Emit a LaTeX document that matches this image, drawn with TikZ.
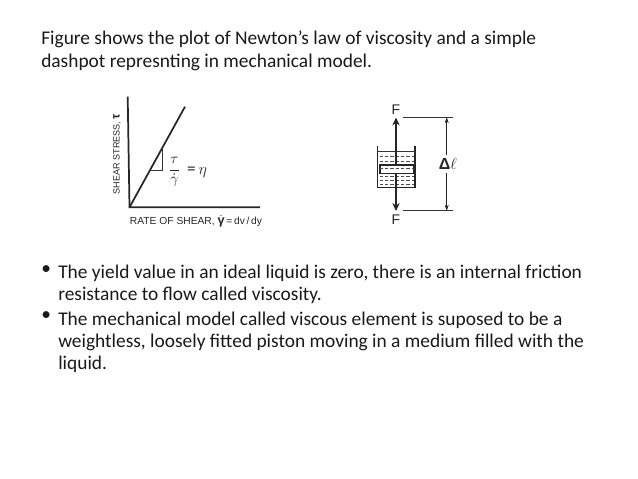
\documentclass[tikz,border=0pt]{standalone}
\usepackage{amsmath}
\usepackage{fontspec}
\setmainfont{Carlito}
\newfontfamily\labelfont{Liberation Sans}
\usetikzlibrary{arrows.meta}

\begin{document}
\begin{tikzpicture}[
    x=0.75pt,
    y=-0.75pt,
    para/.style={anchor=north west, inner sep=0pt, align=left, font=\fontsize{14.55}{16.6}\selectfont, text=black!90},
    bullet/.style={anchor=north west, inner sep=0pt, font=\fontsize{14.55}{16.6}\selectfont, text=black!90},
    axis/.style={line width=1.3pt, black!85},
    thinline/.style={line width=0.6pt, black!80},
    arrow/.style={-{Stealth[length=6pt,width=5.5pt]}, line width=0.9pt, black!85},
    dim/.style={-{Stealth[length=4.5pt,width=3pt]}, line width=0.6pt, black!85},
    lab/.style={inner sep=0pt, font=\labelfont\fontsize{7.7}{9}\selectfont, text=black!85},
    forcelab/.style={inner sep=0pt, font=\labelfont\fontsize{10.5}{11}\selectfont, text=black!85},
    dashrow/.style={line width=0.5pt, black!70, dash pattern=on 2.5pt off 1.5pt}
]
\useasboundingbox (0,0) rectangle (638,478);

% ============================================================
% TEXT
% ============================================================
\node[para] (intro) at (41,31) {Figure shows the plot of Newton’s law of viscosity and a simple\\dashpot represnting in mechanical model.};

\node[bullet] (dota) at (41,265) {•};
\node[para] (itema) at (58,265) {The yield value in an ideal liquid is zero, there is an internal friction\\resistance to flow called viscosity.};
\node[bullet] (dotb) at (41,311.5) {•};
\node[para] (itemb) at (58,311.5) {The mechanical model called viscous element is suposed to be a\\weightless, loosely fitted piston moving in a medium filled with the\\liquid.};

% ============================================================
% PLOT
% ============================================================
\coordinate (origin) at (129.5,207.3);
\coordinate (ytop) at (127.7,96.7);
\coordinate (xend) at (260,207.3);
\coordinate (lineend) at (185,106.7);
\coordinate (tria) at (149.5,170);
\coordinate (trib) at (162.7,170);
\coordinate (tric) at (162.7,148.3);

\draw[axis] (ytop) -- (origin) -- (xend);
\draw[axis] (origin) -- (lineend);
\draw[thinline] (tria) -- (trib) -- (tric);

\node[lab, rotate=90, font=\labelfont\fontsize{6.8}{8}\selectfont] (ylabel) at (117,154) {SHEAR STRESS, {\bfseries\fontsize{9}{9}\selectfont τ}};
\node[lab] (xlabel) at (196,221) {RATE OF SHEAR, $\dot{\text{\bfseries\fontsize{9.5}{9}\selectfont γ}}$\,=\,dv\,/\,dy};
\node[lab, font=\fontsize{11}{12}\selectfont] (ratio) at (174.5,172) {$\dfrac{\tau}{\dot\gamma}$};
\node[lab, font=\fontsize{13}{13}\selectfont] (eta) at (197,172) {=\,$\eta$};

% ============================================================
% DASHPOT
% ============================================================
\coordinate (beakertl) at (377.7,146);
\coordinate (beakerbl) at (377.7,187.3);
\coordinate (beakerbr) at (415,187.3);
\coordinate (beakertr) at (415,146);

\draw[line width=0.9pt, black!85] (beakertl) -- (beakerbl) -- (beakerbr) -- (beakertr);
\draw[line width=0.9pt, black!85] (380,165) rectangle (413.3,173.3);
\draw[thinline] (377.7,151.7) -- (415,151.7);

\foreach \rowy in {156,161,168.5,176,180,184}{
    \draw[dashrow] (379.5,\rowy) -- (413.5,\rowy);
}

\node[forcelab] (ftop) at (396,110) {F};
\node[forcelab] (fbot) at (396,219.5) {F};
\coordinate (pistontop) at (396,165);
\coordinate (pistonbot) at (396,173.3);
\coordinate (toptip) at (396,117.5);
\coordinate (bottip) at (396,211);

\draw[arrow] (pistontop) -- (toptip);
\draw[arrow] (pistonbot) -- (bottip);

\coordinate (dimtl) at (402.7,117.3);
\coordinate (dimtr) at (452.7,117.3);
\coordinate (dimbl) at (403.3,210.7);
\coordinate (dimbr) at (452.7,210.7);
\coordinate (dimtopend) at (446.7,117.3);
\coordinate (dimbotend) at (446.7,210.7);
\coordinate (dimup) at (446.7,155);
\coordinate (dimdown) at (446.7,173);
\draw[thinline] (dimtl) -- (dimtr);
\draw[thinline] (dimbl) -- (dimbr);

\node[inner sep=0pt, font=\labelfont\bfseries\fontsize{12}{12}\selectfont, text=black!85] (delta) at (448,163.5) {Δ$\ell$};
\draw[dim] (dimup) -- (dimtopend);
\draw[dim] (dimdown) -- (dimbotend);
\end{tikzpicture}
\end{document}
